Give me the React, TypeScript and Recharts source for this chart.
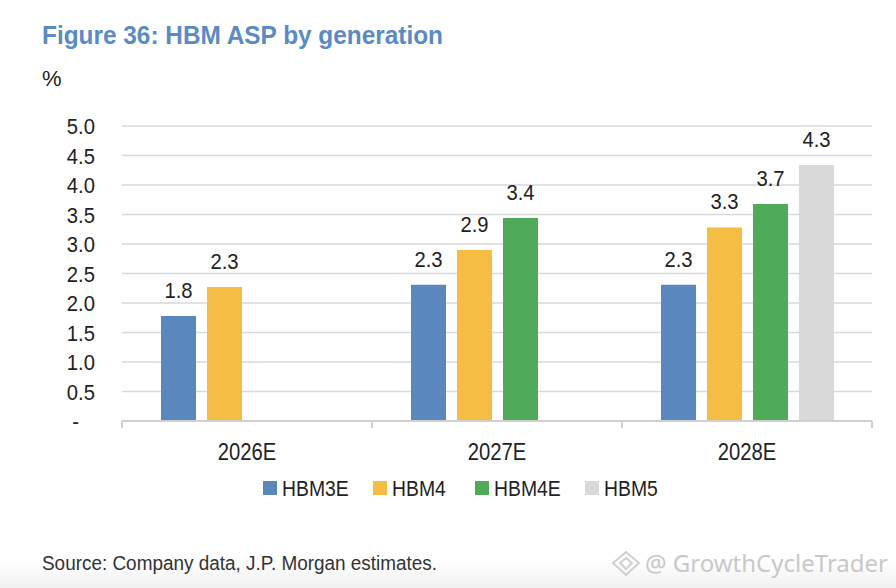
import React from "react";
import { BarChart, Bar, XAxis, YAxis, CartesianGrid, LabelList } from "recharts";

const categories = ["2026E", "2027E", "2028E"];
const hbm3e = [1.78, 2.31, 2.31];
const hbm4 = [2.27, 2.9, 3.28];
const hbm4e = [null, 3.44, 3.68];
const hbm5 = [null, null, 4.34];
const yTicks = [0, 0.5, 1, 1.5, 2, 2.5, 3, 3.5, 4, 4.5, 5];

const series = [
    { key: "hbm3e", name: "HBM3E", values: hbm3e, color: "#5b87bf" },
    { key: "hbm4", name: "HBM4", values: hbm4, color: "#f5be42" },
    { key: "hbm4e", name: "HBM4E", values: hbm4e, color: "#4fab5a" },
    { key: "hbm5", name: "HBM5", values: hbm5, color: "#d9d9d9" },
];

const data = categories.map((category, i) => {
    const row: Record<string, any> = { category };
    series.forEach((s) => (row[s.key] = s.values[i]));
    return row;
});

const W = 896;
const H = 588;
const FONT = "'Liberation Sans', Arial, sans-serif";
const TEXT = "#222";
const margin = { top: 126, right: 24, bottom: 127, left: 0 };
const Y_W = 122;
const PLOT_W = W - margin.left - margin.right - Y_W;

// narrow-ish text like the Excel export
function NarrowText({ x, y, anchor, size, sx, children }: any) {
    return (
        <text
            transform={`translate(${x},${y}) scale(${sx},1)`}
            textAnchor={anchor}
            fontSize={size}
            fill={TEXT}
            fontFamily={FONT}
        >
            {children}
        </text>
    );
}

// category label + boundary tick marks
function CategoryTick(props: any) {
    const { x, y, payload, index } = props;
    const half = payload?.offset || PLOT_W / categories.length / 2;
    return (
        <g>
            <line x1={x - half} x2={x - half} y1={y} y2={y + 7} stroke="#d0d0d0" strokeWidth={2} />
            {index === categories.length - 1 && (
                <line x1={x + half} x2={x + half} y1={y} y2={y + 7} stroke="#d0d0d0" strokeWidth={2} />
            )}
            <NarrowText x={x} y={y + 39} anchor="middle" size={23} sx={0.88}>
                {payload.value}
            </NarrowText>
        </g>
    );
}

function ValueTick(props: any) {
    const { x, y, payload } = props;
    const v = payload.value;
    return (
        <NarrowText x={v === 0 ? x - 16 : x} y={y + 8} anchor="end" size={22} sx={0.92}>
            {v === 0 ? "-" : v.toFixed(1)}
        </NarrowText>
    );
}

function BarValue(props: any) {
    const { x, y, width, value } = props;
    if (value == null) return null;
    return (
        <NarrowText x={x + width / 2} y={y - 18} anchor="middle" size={22} sx={0.92}>
            {Number(value).toFixed(1)}
        </NarrowText>
    );
}

export default function App() {
    return (
        <div
            style={{
                position: "absolute",
                top: 0,
                left: 0,
                width: W,
                height: H,
                background: "linear-gradient(to bottom, #fff 0%, #fff 95%, #f1f1f1 100%)",
                fontFamily: FONT,
            }}
        >
            <svg width={W} height={H} style={{ position: "absolute", top: 0, left: 0 }}>
                <text x={42} y={44} fontSize={26} fontWeight="bold" fill="#5b8bc4" textLength={401} lengthAdjust="spacingAndGlyphs" fontFamily={FONT}>
                    Figure 36: HBM ASP by generation
                </text>
                <text x={42} y={86} fontSize={22} fill={TEXT} fontFamily={FONT}>%</text>
                <text x={42} y={570} fontSize={20} fill="#333" textLength={395} lengthAdjust="spacingAndGlyphs" fontFamily={FONT}>
                    Source: Company data, J.P. Morgan estimates.
                </text>
                <g stroke="#cfcfcf" strokeWidth={2} fill="none">
                    <polygon points="626,552 639,563 626,575 613,563" />
                    <polygon points="626,558 632,563 626,569 620,563" />
                </g>
                <text x={645} y={572} fontSize={24} fill="#c8c8c8" textLength={243} lengthAdjust="spacingAndGlyphs" fontFamily="'Noto Sans', sans-serif">
                    @ GrowthCycleTrader
                </text>
                {/* legend */}
                {series.map((s, i) => {
                    const lx = [263, 373, 475, 585][i];
                    return (
                        <g key={s.key}>
                            <rect x={lx} y={481} width={14} height={14} fill={s.color} />
                            <text
                                transform={`translate(${lx + 19},${496}) scale(0.88,1)`}
                                fontSize={22}
                                fill={TEXT}
                                fontFamily={FONT}
                            >
                                {s.name}
                            </text>
                        </g>
                    );
                })}
            </svg>

            <BarChart
                width={W}
                height={H}
                data={data}
                margin={margin}
                barCategoryGap={39}
                barGap={11}
                style={{ position: "absolute", top: 0, left: 0 }}
            >
                <CartesianGrid vertical={false} stroke="#d9d9d9" strokeWidth={1.5} />
                <YAxis
                    width={Y_W}
                    domain={[0, 5]}
                    ticks={yTicks}
                    interval={0}
                    axisLine={false}
                    tickLine={false}
                    tickSize={0}
                    tickMargin={27}
                    tick={<ValueTick />}
                />
                <XAxis
                    dataKey="category"
                    height={40}
                    axisLine={{ stroke: "#d0d0d0", strokeWidth: 2 }}
                    tickLine={false}
                    tickSize={0}
                    tickMargin={0}
                    interval={0}
                    tick={<CategoryTick />}
                />
                {series.map((s) => (
                    <Bar key={s.key} dataKey={s.key} name={s.name} fill={s.color} isAnimationActive={false}>
                        <LabelList dataKey={s.key} content={<BarValue />} />
                    </Bar>
                ))}
            </BarChart>
        </div>
    );
}
